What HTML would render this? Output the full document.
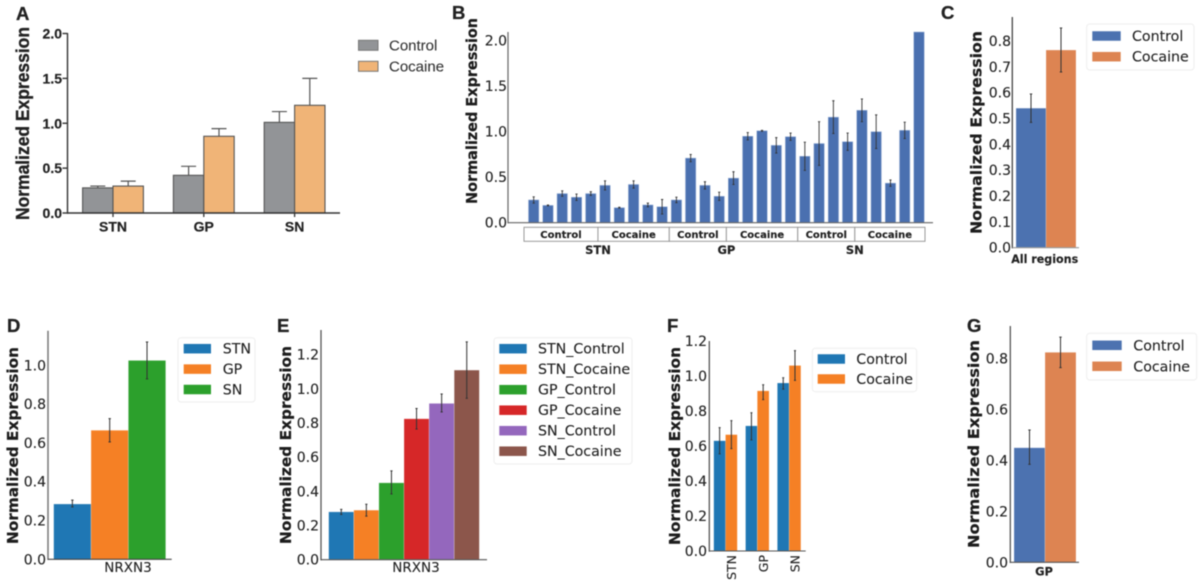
<!DOCTYPE html>
<html lang="en">
<head>
<meta charset="utf-8">
<title>Normalized Expression panels A-G</title>
<style>
html,body{margin:0;padding:0;background:#fff;width:1200px;height:587px;overflow:hidden}
svg{display:block;filter:blur(0.4px)}
.letter{font:bold 18.5px "Liberation Sans",sans-serif;fill:#222;stroke:#222;stroke-width:.3}
.ytitle-a{font:bold 18.5px "Liberation Sans",sans-serif;fill:#222;stroke:#222;stroke-width:.35}
.ytitle{font:bold 15.5px "DejaVu Sans",sans-serif;fill:#1c1c1c;stroke:#1c1c1c;stroke-width:.2}
.tick{font:14px "DejaVu Sans",sans-serif;fill:#222;stroke:#222;stroke-width:.12}
.tick-a{font:bold 14px "Liberation Sans",sans-serif;fill:#222;stroke:#222;stroke-width:.2}
.leg{font:14.2px "DejaVu Sans",sans-serif;fill:#222;stroke:#222;stroke-width:.1}
.leg-a{font:15px "Liberation Sans",sans-serif;fill:#333;stroke:#333;stroke-width:.1}
.xbold{font:bold 11.5px "DejaVu Sans",sans-serif;fill:#222;stroke:#222;stroke-width:.15}
.xreg{font:13.5px "DejaVu Sans",sans-serif;fill:#222;stroke:#222;stroke-width:.1}
.xrot{font:12.5px "DejaVu Sans",sans-serif;fill:#222;stroke:#222;stroke-width:.1}
.group{font:bold 10px "DejaVu Sans",sans-serif;fill:#222;stroke:#222;stroke-width:.15}
</style>
</head>
<body>
<svg id="fig" width="1200" height="587" viewBox="0 0 1200 587" xmlns="http://www.w3.org/2000/svg">
  <rect width="1200" height="587" fill="#fff"/>
  <text class="letter" x="16" y="20">A</text>
  <text class="letter" x="452" y="19">B</text>
  <text class="letter" x="941" y="19">C</text>
  <text class="letter" x="7" y="332">D</text>
  <text class="letter" x="277" y="332">E</text>
  <text class="letter" x="667" y="332">F</text>
  <text class="letter" x="967" y="332">G</text>

  <text class="ytitle-a" transform="translate(29,220) rotate(-90)" textLength="193" lengthAdjust="spacingAndGlyphs">Normalized Expression</text>
  <text class="ytitle" transform="translate(477,204) rotate(-90)" textLength="186" lengthAdjust="spacingAndGlyphs">Normalized Expression</text>
  <text class="ytitle" transform="translate(981.5,234) rotate(-90)" textLength="203" lengthAdjust="spacingAndGlyphs">Normalized Expression</text>
  <text class="ytitle" transform="translate(18,544) rotate(-90)" textLength="197" lengthAdjust="spacingAndGlyphs">Normalized Expression</text>
  <text class="ytitle" transform="translate(291,544) rotate(-90)" textLength="198" lengthAdjust="spacingAndGlyphs">Normalized Expression</text>
  <text class="ytitle" transform="translate(680,545) rotate(-90)" textLength="198" lengthAdjust="spacingAndGlyphs">Normalized Expression</text>
  <text class="ytitle" transform="translate(979,548) rotate(-90)" textLength="208" lengthAdjust="spacingAndGlyphs">Normalized Expression</text>

  <text class="xbold" x="1044.7" y="263" text-anchor="middle" textLength="67" lengthAdjust="spacingAndGlyphs">All regions</text>
  <text class="xreg" x="128" y="572" text-anchor="middle">NRXN3</text>
  <text class="xreg" x="416" y="572" text-anchor="middle">NRXN3</text>
  <text class="xbold" x="1044" y="575.5" text-anchor="middle">GP</text>
</svg>
<script>
// Panel A
const aCategories = ['STN', 'GP', 'SN'];
const aTicks = ['0.0', '0.5', '1.0', '1.5', '2.0'];
const aControl = [0.28, 0.42, 1.01];
const aCocaine = [0.30, 0.855, 1.20];
const aControlTop = [0.30, 0.52, 1.13];
const aCocaineTop = [0.355, 0.94, 1.50];
const aLegend = ['Control', 'Cocaine'];

// Panel B
const bTicks = ['0.0', '0.5', '1.0', '1.5', '2.0'];
const bValues = [0.25, 0.19, 0.32, 0.28, 0.32, 0.41, 0.165, 0.42, 0.195, 0.175, 0.25, 0.71, 0.41, 0.29, 0.49, 0.95, 1.01, 0.85, 0.945, 0.73, 0.87, 1.16, 0.89, 1.235, 1.0, 0.435, 1.015, 2.1];
const bErrors = [0.035, 0.005, 0.03, 0.035, 0.02, 0.05, 0.005, 0.04, 0.02, 0.08, 0.03, 0.04, 0.04, 0.045, 0.07, 0.04, 0.005, 0.085, 0.04, 0.155, 0.24, 0.18, 0.095, 0.125, 0.185, 0.035, 0.09, 0];
const bTreatments = ['Control', 'Cocaine', 'Control', 'Cocaine', 'Control', 'Cocaine'];
const bTreatmentCounts = [5, 5, 4, 5, 4, 5];
const bRegions = ['STN', 'GP', 'SN'];

// Panel C
const cTicks = ['0.0', '0.1', '0.2', '0.3', '0.4', '0.5', '0.6', '0.7', '0.8'];
const cLabels = ['Control', 'Cocaine'];
const cValues = [0.54, 0.765];
const cLow = [0.485, 0.68];
const cHigh = [0.595, 0.85];

// Panel D
const dTicks = ['0.0', '0.2', '0.4', '0.6', '0.8', '1.0'];
const dLabels = ['STN', 'GP', 'SN'];
const dValues = [0.285, 0.665, 1.025];
const dLow = [0.27, 0.605, 0.93];
const dHigh = [0.305, 0.725, 1.12];

// Panel E
const eTicks = ['0.0', '0.2', '0.4', '0.6', '0.8', '1.0', '1.2'];
const eLabels = ['STN_Control', 'STN_Cocaine', 'GP_Control', 'GP_Cocaine', 'SN_Control', 'SN_Cocaine'];
const eValues = [0.28, 0.29, 0.45, 0.825, 0.915, 1.11];
const eLow = [0.265, 0.255, 0.385, 0.765, 0.865, 0.945];
const eHigh = [0.295, 0.325, 0.52, 0.885, 0.97, 1.275];

// Panel F
const fTicks = ['0.0', '0.2', '0.4', '0.6', '0.8', '1.0', '1.2'];
const fCategories = ['STN', 'GP', 'SN'];
const fLabels = ['Control', 'Cocaine'];
const fControl = [0.63, 0.715, 0.96];
const fCocaine = [0.665, 0.915, 1.06];
const fControlLow = [0.555, 0.635, 0.925];
const fControlHigh = [0.705, 0.79, 0.99];
const fCocaineLow = [0.585, 0.865, 0.975];
const fCocaineHigh = [0.745, 0.95, 1.145];

// Panel G
const gTicks = ['0.0', '0.2', '0.4', '0.6', '0.8'];
const gLabels = ['Control', 'Cocaine'];
const gValues = [0.45, 0.825];
const gLow = [0.385, 0.765];
const gHigh = [0.52, 0.885];

const deep = ['#4c72b0', '#dd8452'];
const tab = ['#1f77b4', '#f58025', '#2ca02c', '#d62728', '#9467bd', '#8c564b'];

const svg = document.getElementById('fig');
const NS = 'http://www.w3.org/2000/svg';

function make(tag, attrs) {
  const n = document.createElementNS(NS, tag);
  for (const k in attrs) n.setAttribute(k, attrs[k]);
  svg.appendChild(n);
  return n;
}
function scale(zeroPx, pxPerUnit) {
  return function (v) { return zeroPx - v * pxPerUnit; };
}
function drawAxes(prefix, x0, xEnd, yTop, yZero, y, ticks, o) {
  ticks.forEach(function (t) {
    const py = y(parseFloat(t));
    if (o.tickLen) {
      const mark = make('line', {x1: x0 - o.tickLen, x2: x0, y1: py, y2: py, stroke: o.yColor, 'stroke-width': 1.4});
      
      
    }
    const label = make('text', {x: o.labelX, y: py + (o.dy || 5), 'text-anchor': 'end', class: o.tickClass});
    label.textContent = t;
    
    
  });
  const ya = make('line', {x1: x0, x2: x0, y1: yTop, y2: yZero + 0.7, stroke: o.yColor, 'stroke-width': o.yWidth});
  
  
  const xa = make('line', {x1: x0, x2: xEnd, y1: yZero, y2: yZero, stroke: o.xColor, 'stroke-width': o.xWidth});
  
  
}
function drawBar(name, left, width, base, top, fill, stroke, sw) {
  const b = make('rect', {x: left, y: top, width: width, height: base - top, fill: fill, stroke: stroke, 'stroke-width': sw});
  
  
}
function drawErr(name, cx, pyLow, pyHigh, cap, color, sw) {
  const s = make('path', {
    d: 'M' + cx + ' ' + pyLow + 'V' + pyHigh + 'M' + (cx - cap) + ' ' + pyHigh + 'H' + (cx + cap),
    stroke: color, 'stroke-width': sw, fill: 'none'
  });
  
  
}
function drawLowCap(name, cx, py, cap, color, sw) {
  const s = make('line', {x1: cx - cap, x2: cx + cap, y1: py, y2: py, stroke: color, 'stroke-width': sw});
  
  
}
function drawLegend(prefix, box, labels, colors, sw1, sw2, firstCy, step, textX, h, cls, edge) {
  if (box) {
    const f = make('rect', {x: box[0], y: box[1], width: box[2] - box[0], height: box[3] - box[1], rx: 3, fill: '#fff', stroke: '#eeeeee', 'stroke-width': 1});
    
    
  }
  labels.forEach(function (t, i) {
    const cy = firstCy + i * step;
    const s = make('rect', {x: sw1, y: cy - h / 2, width: sw2 - sw1, height: h, fill: colors[i], stroke: edge || 'none', 'stroke-width': edge ? 1 : 0});
    
    
    const l = make('text', {x: textX, y: cy + 5, class: cls});
    l.textContent = t;
    
    
  });
}

/* ---------- Panel A ---------- */
(function () {
  const y = scale(213, 89.75);
  const w = 30.4;
  const cols = ['#929497', '#f0b477'];
  aCategories.forEach(function (c, i) {
    const mid = 113 + i * 90.8;
    [[aControl, aControlTop, mid - w], [aCocaine, aCocaineTop, mid]].forEach(function (s, j) {
      drawErr('panel-a-error-bar', s[2] + w / 2, y(s[0][i]), y(s[1][i]), 7.5, '#555', 1.2);
      drawBar('panel-a-bar', s[2], w, 213, y(s[0][i]), cols[j], '#555', 1.1);
    });
    const lab = make('text', {x: mid, y: 231.5, 'text-anchor': 'middle', class: 'tick-a'});
    lab.textContent = c;
    
    
    const t = make('line', {x1: mid, x2: mid, y1: 213, y2: 217, stroke: '#333', 'stroke-width': 1.3});
    
    
  });
  drawAxes('panel-a', 67.5, 340, 33, 213, y, aTicks, {tickLen: 5, yColor: '#333', yWidth: 1.4, xColor: '#333', xWidth: 1.4, labelX: 62, tickClass: 'tick-a', dy: 5});
  drawLegend('panel-a', null, aLegend, cols, 358.5, 378, 45.3, 21, 389, 10, 'leg-a', '#777');
})();

/* ---------- Panel B ---------- */
(function () {
  const y = scale(222.7, 91);
  const x = function (i) { return 533.7 + i * 14.27; };
  const w = 10.4;
  bValues.forEach(function (v, i) {
    const cx = x(i);
    drawBar('panel-b-bar', cx - w / 2, w, 222.7, Math.max(y(v), 32), '#4a70b0', '#9db4d8', 0.5);
    if (bErrors[i] > 0) {
      drawErr('panel-b-error-bar', cx, y(v - bErrors[i]), y(v + bErrors[i]), 1.1, '#333', 0.9);
      drawLowCap('panel-b-error-cap', cx, y(v - bErrors[i]), 1.1, '#333', 0.9);
    }
  });
  drawAxes('panel-b', 508, 933, 32, 222.7, y, bTicks, {tickLen: 0, yColor: '#666', yWidth: 1.2, xColor: '#666', xWidth: 1.2, labelX: 507, tickClass: 'tick'});
  let start = 0;
  const edge = function (n) { return x(n) - 10; };
  const boxEdges = [];
  bTreatments.forEach(function (t, i) {
    const end = start + bTreatmentCounts[i];
    const left = i === 0 ? 524 : edge(start) + 2.9;
    const right = i === bTreatments.length - 1 ? 925 : edge(end) + 2.9;
    boxEdges.push([left, right]);
    const r = make('rect', {x: left, y: 227.3, width: right - left, height: 14, fill: '#fff', stroke: '#9a9a9a', 'stroke-width': 1});
    
    
    const l = make('text', {x: (left + right) / 2, y: 237.8, 'text-anchor': 'middle', class: 'group'});
    l.textContent = t;
    
    
    start = end;
  });
  bRegions.forEach(function (t, i) {
    const cx = boxEdges[i * 2][1];
    const l = make('text', {x: cx, y: 254, 'text-anchor': 'middle', class: 'xbold'});
    l.textContent = t;
    
    
  });
})();

/* ---------- single series panels ---------- */
function simplePanel(prefix, values, low, high, colors, left, width, yf, yZero, capW) {
  values.forEach(function (v, i) {
    const l = left + i * width;
    drawBar(prefix + '-bar', l, width, yZero, yf(v), colors[i], 'rgba(255,255,255,0.35)', 0.6);
    const cx = l + width / 2;
    drawErr(prefix + '-error-bar', cx, yf(low[i]), yf(high[i]), capW, '#333', 1);
    drawLowCap(prefix + '-error-cap', cx, yf(low[i]), capW, '#333', 1);
  });
}

/* Panel C */
(function () {
  const y = scale(247.7, 258.4);
  simplePanel('panel-c', cValues, cLow, cHigh, deep, 1016, 30, y, 247.7, 1.2);
  drawAxes('panel-c', 1012.3, 1079, 17, 247.7, y, cTicks, {tickLen: 0, yColor: '#444', yWidth: 1.3, xColor: '#999', xWidth: 1.1, labelX: 1011, tickClass: 'tick'});
  drawLegend('panel-c', [1086.7, 24, 1194, 70], cLabels, deep, 1092.3, 1120.7, 36, 20.7, 1132, 9.5, 'leg');
})();

/* Panel D */
(function () {
  const y = scale(559.3, 194);
  simplePanel('panel-d', dValues, dLow, dHigh, tab, 53.7, 37.33, y, 559.3, 1.2);
  drawAxes('panel-d', 48, 171.7, 330.7, 559.3, y, dTicks, {tickLen: 0, yColor: '#777', yWidth: 1.5, xColor: '#444', xWidth: 1.1, labelX: 46, tickClass: 'tick'});
  drawLegend('panel-d', [178, 337.7, 255, 402], dLabels, tab, 183.7, 211, 348.7, 20.4, 222.7, 9.5, 'leg');
})();

/* Panel E */
(function () {
  const y = scale(559.7, 170.8);
  simplePanel('panel-e', eValues, eLow, eHigh, tab, 328.7, 25.1, y, 559.7, 1.1);
  drawAxes('panel-e', 321, 487, 330, 559.7, y, eTicks, {tickLen: 0, yColor: '#555', yWidth: 1.3, xColor: '#555', xWidth: 1.1, labelX: 319, tickClass: 'tick'});
  drawLegend('panel-e', [494, 337.7, 632, 464], eLabels, tab, 499.3, 526.7, 348.7, 20.5, 538, 9.5, 'leg');
})();

/* Panel F */
(function () {
  const y = scale(551, 175);
  const w = 11.75;
  fCategories.forEach(function (c, i) {
    const mid = 725.5 + i * 31.8;
    [[fControl, fControlLow, fControlHigh, mid - w], [fCocaine, fCocaineLow, fCocaineHigh, mid]].forEach(function (s, j) {
      drawBar('panel-f-bar', s[3], w, 551, y(s[0][i]), tab[j], 'rgba(255,255,255,0.35)', 0.5);
      drawErr('panel-f-error-bar', s[3] + w / 2, y(s[1][i]), y(s[2][i]), 1, '#333', 1);
      drawLowCap('panel-f-error-cap', s[3] + w / 2, y(s[1][i]), 1, '#333', 1);
    });
    const lab = make('text', {class: 'xrot', 'text-anchor': 'end', transform: 'translate(' + (mid + 10.5) + ',555) rotate(-90)'});
    lab.textContent = c;
    
    
  });
  drawAxes('panel-f', 709.3, 805.7, 341, 551, y, fTicks, {tickLen: 0, yColor: '#555', yWidth: 1.3, xColor: '#555', xWidth: 1.1, labelX: 707, tickClass: 'tick'});
  drawLegend('panel-f', [812.3, 348.3, 916.7, 391.7], fLabels, tab, 817.7, 845, 359, 20, 856.3, 9.5, 'leg');
})();

/* Panel G */
(function () {
  const y = scale(562.3, 254.5);
  simplePanel('panel-g', gValues, gLow, gHigh, deep, 1014, 31, y, 562.3, 1.2);
  drawAxes('panel-g', 1010.3, 1079, 326, 562.3, y, gTicks, {tickLen: 0, yColor: '#555', yWidth: 1.3, xColor: '#555', xWidth: 1.1, labelX: 1008, tickClass: 'tick'});
  drawLegend('panel-g', [1086.7, 333.3, 1196.7, 380], gLabels, deep, 1092.3, 1121.7, 345.3, 21, 1133.3, 9.5, 'leg');
})();
</script>
</body>
</html>
